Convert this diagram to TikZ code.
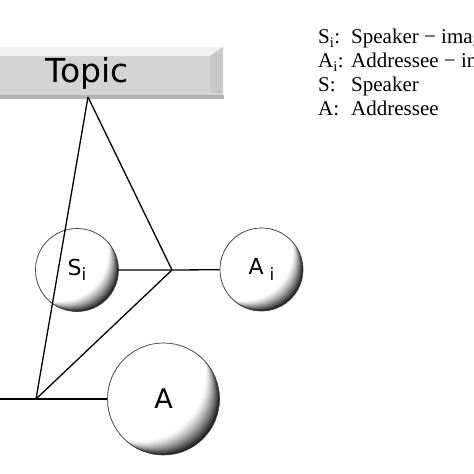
\documentclass[tikz,border=0pt]{standalone}
\usepackage{fontspec}
\setmainfont{Liberation Serif}
\newfontfamily\labelfont{DejaVu Sans}
\usetikzlibrary{calc}

% white ball, dark towards the lower right
\newcommand{\gloss}[2]{%
  \begin{scope}
    \clip #1 circle [radius=#2];
    \foreach \k in {0,...,40}{%
      \pgfmathsetmacro\gt{\k/40}%
      \pgfmathsetmacro\gs{90*(1-\gt)^1.3}%
      \pgfmathsetmacro\go{0.448*#2*\gt}%
      \pgfmathsetmacro\gr{#2*(1+0.2*\gt)}%
      \fill[black!\gs] ($#1+(-\go,\go)$) circle [radius=\gr];
    }
  \end{scope}}
\newcommand{\lowi}[1]{\raisebox{-#1}{\fontsize{17}{17}\selectfont i}}

\begin{document}
\begin{tikzpicture}[x=1pt, y=1pt,
  role/.style={circle, draw=black!75, line width=0.7pt, inner sep=0pt, minimum size={2*#1pt}, font=\labelfont\fontsize{22}{22}\selectfont},
  link/.style={line width=1.3pt},
  legend/.style={anchor=base west, inner sep=0pt, font=\fontsize{21}{21}\selectfont}]
\clip (0,0) rectangle (474,474);
% topic bar
\fill[black!30] (0,375) rectangle (224,379);
\fill[black!17] (0,379) rectangle (223,427);
\fill[black!5] (0,427) -- (223,427) -- (210,418) -- (0,418) -- cycle;
\fill[black!21] (210,418) -- (223,427) -- (223,380) -- (210,381) -- cycle;
\node[font=\labelfont\fontsize{33}{33}\selectfont] (topic) at (87,401) {Topic};
\coordinate (apex) at (88,377);

% roles
\coordinate (sic) at (77,204);
\coordinate (aic) at (261.5,204.5);
\coordinate (ac) at (163.5,75);
\gloss{(sic)}{41.5}
\gloss{(aic)}{41.5}
\gloss{(ac)}{56}
\node[role=41.5] (si) at (sic) {S\lowi{5pt}};
\node[role=41.5] (ai) at (aic) {A\hspace{6pt}\lowi{6pt}};
\node[role=56, font=\labelfont\fontsize{27}{27}\selectfont] (a) at (ac) {A};
\coordinate (junc) at (172,204);
\coordinate (spk) at (36,75);
\coordinate (left) at (0,75);

\draw[link] (apex) -- (spk);
\draw[link] (apex) -- (junc);
\draw[link] (si) -- (junc) -- (ai);
\draw[link] (junc) -- (spk);
\draw[link] (left) -- (a);

% legend
\node[legend] (l1) at (318,430) {S\textsubscript{i}:};
\node[legend] (t1) at (351,430) {Speaker − image};
\node[legend] (l2) at (318,406) {A\textsubscript{i}:};
\node[legend] (t2) at (351,406) {Addressee − image};
\node[legend] (l3) at (318,382) {S:};
\node[legend] (t3) at (351,382) {Speaker};
\node[legend] (l4) at (318,358) {A:};
\node[legend] (t4) at (351,358) {Addressee};
\end{tikzpicture}
\end{document}
